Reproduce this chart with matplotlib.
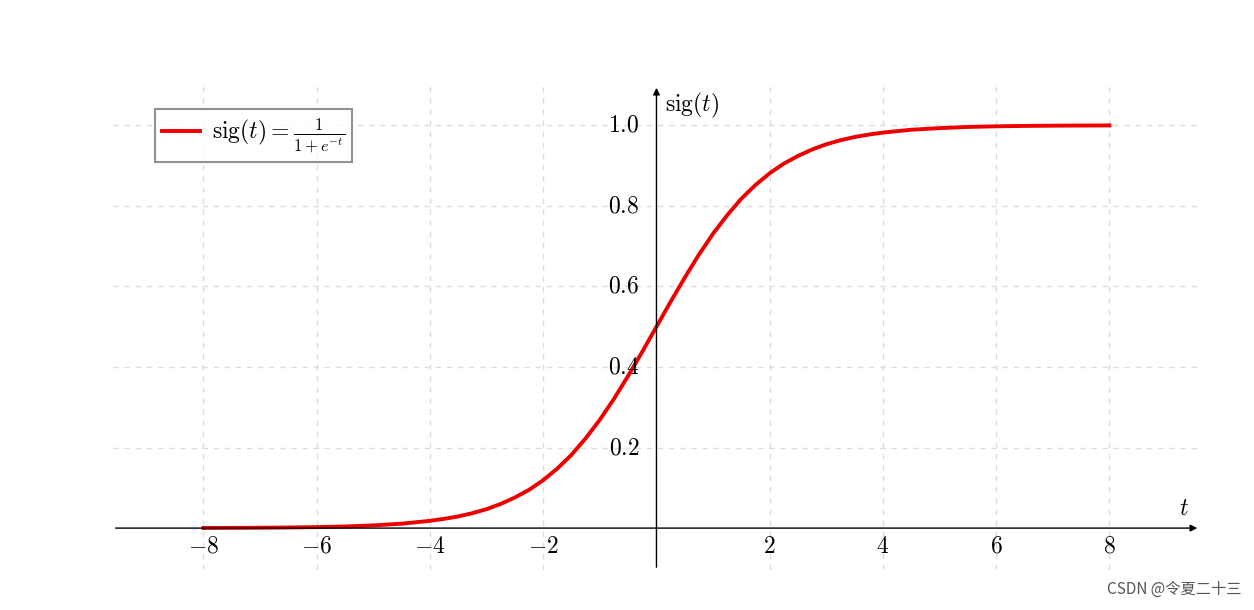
import matplotlib.pyplot as plt

plt.rcParams['mathtext.fontset'] = 'cm'
plt.rcParams['font.family'] = ['DejaVu Serif']

# values
t = [-8, -7.5, -7, -6.5, -6, -5.5, -5, -4.5, -4, -3.75, -3.5, -3.25, -3, -2.75, -2.5,
     -2.25, -2, -1.75, -1.5, -1.25, -1, -0.75, -0.5, -0.25,
     0, 0.25, 0.5, 0.75, 1, 1.25, 1.5, 1.75, 2, 2.25, 2.5, 2.75, 3, 3.25, 3.5, 3.75,
     4, 4.5, 5, 5.5, 6, 6.5, 7, 7.5, 8]
sig = [0.0003, 0.0006, 0.0009, 0.0015, 0.0025, 0.004, 0.0067, 0.011, 0.018, 0.023,
       0.029, 0.037, 0.047, 0.060, 0.076, 0.095, 0.119, 0.148, 0.182, 0.223, 0.269,
       0.321, 0.378, 0.438,
       0.5, 0.562, 0.622, 0.679, 0.731, 0.777, 0.818, 0.852, 0.881, 0.905, 0.924,
       0.940, 0.953, 0.963, 0.971, 0.977,
       0.982, 0.989, 0.993, 0.996, 0.9975, 0.9985, 0.9991, 0.9994, 0.9997]
xticks = [-8, -6, -4, -2, 2, 4, 6, 8]
yticks = [0.2, 0.4, 0.6, 0.8, 1.0]

fig = plt.figure(figsize=(12.54, 6.10), dpi=100)
ax = fig.add_axes([0.090, 0.0656, 0.867, 0.795])
ax.set_xlim(-9.6, 9.6)
ax.set_ylim(-0.104, 1.1)

for x in xticks:
    ax.axvline(x, color='#dddddd', ls=(0, (4, 4)), lw=1, zorder=0)
for y in yticks:
    ax.axhline(y, color='#dddddd', ls=(0, (4, 4)), lw=1, zorder=0)

for s in ax.spines.values():
    s.set_visible(False)
ax.annotate('', xy=(9.6, 0), xytext=(-9.6, 0),
            arrowprops=dict(arrowstyle='-|>', color='black', lw=1, mutation_scale=10))
ax.annotate('', xy=(0, 1.1), xytext=(0, -0.104),
            arrowprops=dict(arrowstyle='-|>', color='black', lw=1, mutation_scale=10))

ax.plot(t, sig, color='#ee0000', lw=2.8,
        label=r'$\mathrm{sig}(t)=\frac{1}{1+e^{-t}}$')

ax.set_xticks([])
ax.set_yticks([])
for x in xticks:
    ax.text(x, -0.045, r'$%d$' % x, ha='center', va='center', fontsize=17)
for y in yticks:
    ax.text(-0.3, y, r'$%.1f$' % y, ha='right', va='center', fontsize=17)
ax.text(9.4, 0.02, r'$t$', ha='right', va='bottom', fontsize=17)
ax.text(0.15, 1.05, r'$\mathrm{sig}(t)$', ha='left', va='center', fontsize=17)

leg = ax.legend(loc='upper left', bbox_to_anchor=(0.028, 0.975), fontsize=17,
                fancybox=False, edgecolor='#777777', handlelength=1.6,
                borderpad=0.3, handletextpad=0.5)
leg.get_frame().set_linewidth(1.5)

fig.text(0.99, 0.02, 'CSDN @令夏二十三', ha='right', va='bottom', fontsize=11,
         color='#555555', family=['Noto Sans CJK SC', 'DejaVu Sans'])

fig.savefig('out.png', dpi=100)
